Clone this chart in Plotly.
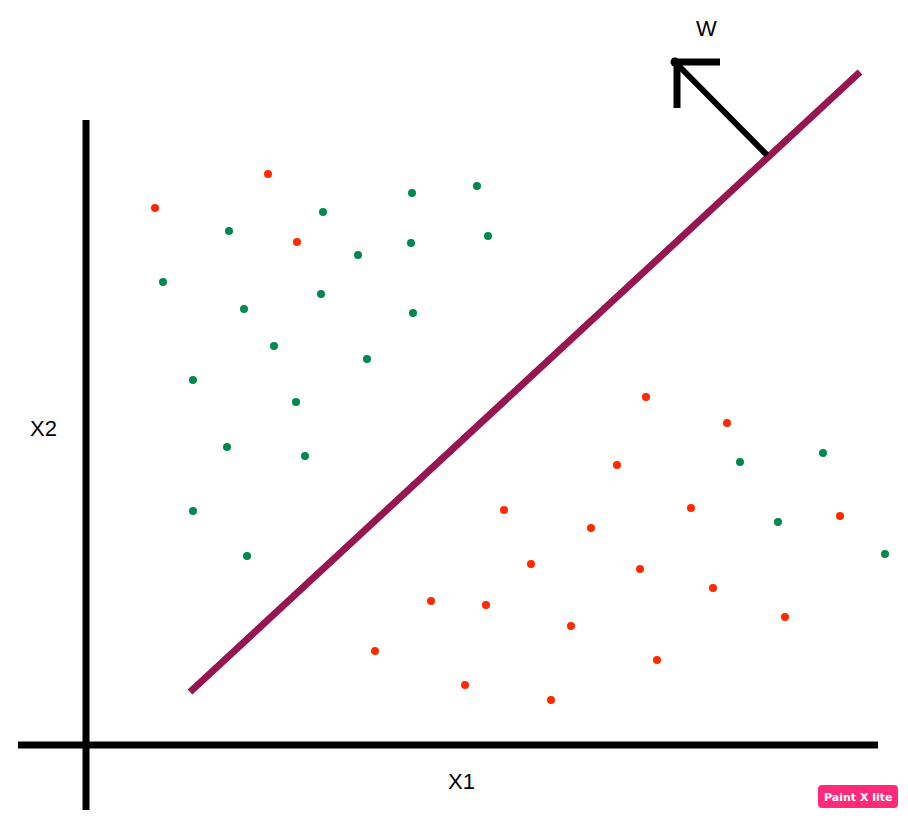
import plotly.graph_objects as go

# Data (pixel-space coordinates)
green_x = [229, 323, 412, 477, 411, 488, 358, 163, 321, 244, 413, 274, 367, 193, 296, 227, 305, 193, 247, 740, 823, 778, 885]
green_y = [231, 212, 193, 186, 243, 236, 255, 282, 294, 309, 313, 346, 359, 380, 402, 447, 456, 511, 556, 462, 453, 522, 554]
red_x = [155, 268, 297, 646, 727, 617, 504, 691, 591, 840, 531, 640, 713, 431, 486, 785, 571, 375, 657, 465, 551]
red_y = [208, 174, 242, 397, 423, 465, 510, 508, 528, 516, 564, 569, 588, 601, 605, 617, 626, 651, 660, 685, 700]

boundary_x = [190, 860]
boundary_y = [692, 72]
w_x = [767, 675]
w_y = [155, 62]
head_h_x = [672, 720]
head_h_y = [62, 62]
head_v_x = [677, 677]
head_v_y = [59, 108]
yaxis_x = [86, 86]
yaxis_y = [120, 810]
xaxis_x = [18, 878]
xaxis_y = [745, 745]

# page body offset of the figure
OFF = 8

fig = go.Figure()

def seg(xs, ys, color, width):
    fig.add_trace(go.Scatter(x=xs, y=ys, mode="lines",
                             line=dict(color=color, width=width),
                             hoverinfo="skip", showlegend=False))

seg(yaxis_x, yaxis_y, "black", 7)
seg(xaxis_x, xaxis_y, "black", 7)
seg(boundary_x, boundary_y, "#961651", 7)
seg(w_x, w_y, "black", 6)
seg(head_h_x, head_h_y, "black", 7)
seg(head_v_x, head_v_y, "black", 7)
fig.add_trace(go.Scatter(x=[w_x[1]], y=[w_y[1]], mode="markers",
                         marker=dict(color="black", size=9), hoverinfo="skip", showlegend=False))

fig.add_trace(go.Scatter(x=green_x, y=green_y, mode="markers",
                         marker=dict(color="#00894f", size=8), showlegend=False))
fig.add_trace(go.Scatter(x=red_x, y=red_y, mode="markers",
                         marker=dict(color="#ff2a00", size=8), showlegend=False))

font = dict(family="Liberation Sans, Arial", size=22, color="black")
fig.add_annotation(x=706, y=28, text="W", showarrow=False, font=font)
fig.add_annotation(x=43, y=428, text="X2", showarrow=False, font=font)
fig.add_annotation(x=461, y=781, text="X1", showarrow=False, font=font)

# watermark
fig.add_shape(type="path",
              path="M 822 785 L 894 785 Q 898 785 898 789 L 898 804 Q 898 808 894 808 "
                   "L 822 808 Q 818 808 818 804 L 818 789 Q 818 785 822 785 Z",
              fillcolor="#ff2a7a", line=dict(width=0), layer="above")
fig.add_annotation(x=858, y=797, text="<b>Paint X lite</b>", showarrow=False,
                   font=dict(family="DejaVu Sans", size=11, color="white"))

fig.update_layout(
    width=908, height=818,
    margin=dict(l=0, r=0, t=0, b=0),
    paper_bgcolor="white", plot_bgcolor="white",
    xaxis=dict(range=[OFF, 908 + OFF], visible=False, fixedrange=True),
    yaxis=dict(range=[818 + OFF, OFF], visible=False, fixedrange=True),
)

fig.write_html("out.html")
